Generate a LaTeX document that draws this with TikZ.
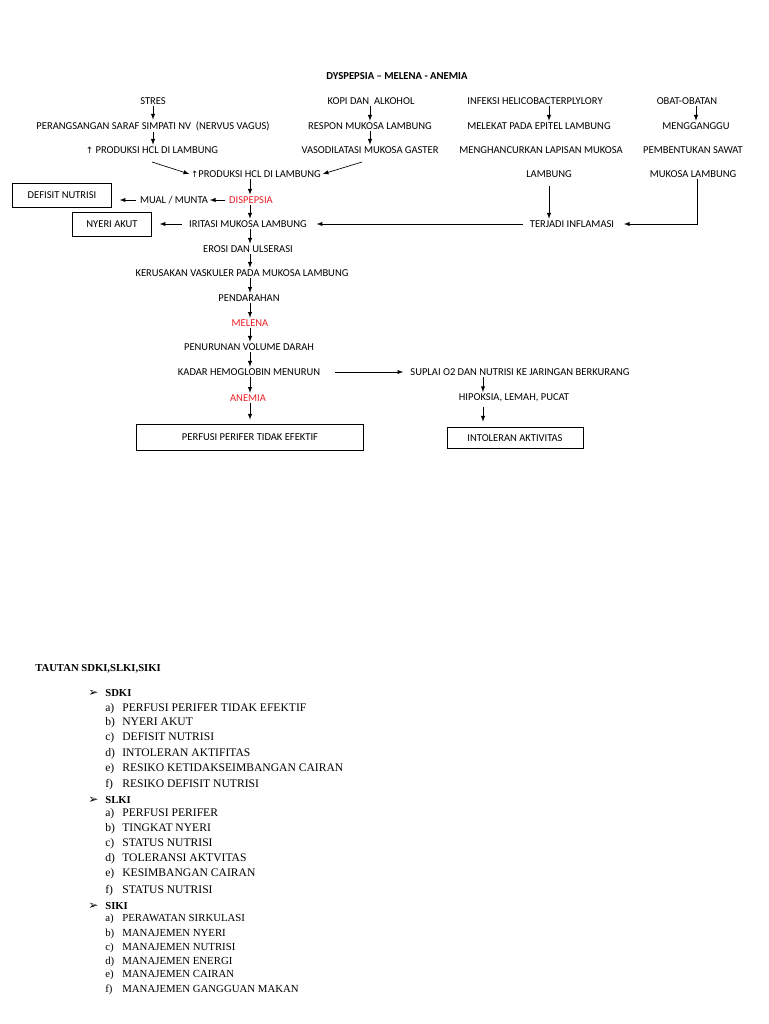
\documentclass[tikz,border=0pt]{standalone}
\usepackage{fontspec}
\usepackage{tikz}
\setmainfont{Carlito}
\newfontfamily\serif{Liberation Serif}
\newfontfamily\simbol{DejaVu Sans}
\definecolor{merah}{RGB}{235,30,35}
\newcommand\naik{{\simbol\fontsize{6.5}{8}\selectfont ↑}}
\newcommand\butir[2]{\makebox[12.8pt][l]{#1}#2}
\newcommand\pokok[1]{\makebox[12.8pt][l]{\simbol\fontsize{9}{9}\selectfont ➢}\textbf{#1}}
\tikzset{
  >=latex,
  lbl/.style={inner sep=1.2pt, font=\fontsize{7.9}{9}\selectfont},
  judul/.style={lbl, font=\bfseries\fontsize{8}{9}\selectfont},
  kunci/.style={lbl, text=merah},
  kotak/.style={lbl, draw, line width=0.6pt},
  panah/.style={->, line width=0.5pt},
  daftar/.style={anchor=west, inner sep=0pt, font=\serif\fontsize{8.7}{10}\selectfont},
  daftarkecil/.style={daftar, font=\serif\fontsize{8.1}{9}\selectfont},
  kepala/.style={daftar, font=\serif\bfseries\fontsize{8}{9}\selectfont}
}
\begin{document}
\begin{tikzpicture}[x=0.75pt,y=-0.75pt]
\useasboundingbox (0,0) rectangle (768,1024);

\node[judul] (judul) at (397,76) {DYSPEPSIA – MELENA - ANEMIA};

\node[lbl] (stres) at (153,101) {STRES};
\node[lbl] (kopi) at (371,101) {KOPI DAN~ ALKOHOL};
\node[lbl] (infeksi) at (535,101) {INFEKSI HELICOBACTERPLYLORY};
\node[lbl] (obat) at (687,101) {OBAT-OBATAN};
\node[lbl] (saraf) at (153,126) {PERANGSANGAN SARAF SIMPATI NV~ (NERVUS VAGUS)};
\node[lbl] (respon) at (370,126) {RESPON MUKOSA LAMBUNG};
\node[lbl] (melekat) at (539,126) {MELEKAT PADA EPITEL LAMBUNG};
\node[lbl] (ganggu) at (696,126) {MENGGANGGU};
\node[lbl] (hcla) at (152,150) {\naik\ PRODUKSI HCL DI LAMBUNG};
\node[lbl] (vaso) at (370,150) {VASODILATASI MUKOSA GASTER};
\node[lbl] (hancur) at (541,150) {MENGHANCURKAN LAPISAN MUKOSA};
\node[lbl] (bentuk) at (693,150) {PEMBENTUKAN SAWAT};
\node[lbl] (hclb) at (256,174) {\naik PRODUKSI HCL DI LAMBUNG};
\node[lbl] (lambung) at (549,174) {LAMBUNG};
\node[lbl] (mukosa) at (693,174) {MUKOSA LAMBUNG};

\node[kotak, minimum width=74pt, minimum height=18pt] (defisit) at (62,195) {DEFISIT NUTRISI};
\node[lbl] (mual) at (174,200) {MUAL / MUNTA};
\node[kunci] (dispepsia) at (251,200) {DISPEPSIA};
\node[kotak, minimum width=59pt, minimum height=18pt] (nyeri) at (112,224) {NYERI AKUT};
\node[lbl] (iritasi) at (248,224) {IRITASI MUKOSA LAMBUNG};
\node[lbl] (inflamasi) at (572,224) {TERJADI INFLAMASI};
\node[lbl] (erosi) at (248,249) {EROSI DAN ULSERASI};
\node[lbl] (vaskuler) at (242,273) {KERUSAKAN VASKULER PADA MUKOSA LAMBUNG};
\node[lbl] (darah) at (249,298) {PENDARAHAN};
\node[kunci] (melena) at (250,323) {MELENA};
\node[lbl] (volume) at (249,347) {PENURUNAN VOLUME DARAH};
\node[lbl] (hb) at (249,372) {KADAR HEMOGLOBIN MENURUN};
\node[lbl] (suplai) at (520,372) {SUPLAI O2 DAN NUTRISI KE JARINGAN BERKURANG};
\node[kunci] (anemia) at (248,398) {ANEMIA};
\node[lbl] (hipoksia) at (514,398) {HIPOKSIA, LEMAH, PUCAT};
\node[kotak, minimum width=170pt, minimum height=19.5pt] (perfusi) at (250,437) {PERFUSI PERIFER TIDAK EFEKTIF};
\node[kotak, minimum width=102pt, minimum height=16pt] (intoleran) at (515,438) {INTOLERAN AKTIVITAS};

\coordinate (kol) at (250,0);
\coordinate (kolb) at (483,0);
\coordinate (tekuk) at (697,224);
\coordinate (hcla-e) at (152,162);
\coordinate (vaso-e) at (362,162);

\draw[panah] (stres) -- (saraf.north -| stres);
\draw[panah] (saraf.south -| stres) -- (hcla.north -| stres);
\draw[panah] (kopi.south -| respon) -- (respon.north);
\draw[panah] (respon) -- (vaso);
\draw[panah] (infeksi.south -| lambung) -- (melekat.north -| lambung);
\draw[panah] (obat.south -| ganggu) -- (ganggu.north);
\draw[panah] (hcla-e) -- (hclb.west);
\draw[panah] (vaso-e) -- (hclb.east);
\draw[panah, shorten <=5pt] (lambung.south) -- (inflamasi.north -| lambung);
\draw[panah, shorten >=6pt] (mukosa.south -| tekuk) -- (tekuk) -- (inflamasi.east);
\draw[panah, shorten <=4pt, shorten >=6pt] (inflamasi.west) -- (iritasi.east);
\draw[panah, shorten <=1.5pt] (dispepsia.west) -- (mual.east);
\draw[panah, shorten <=2pt, shorten >=6pt] (mual.west) -- (mual.west -| defisit.east);
\draw[panah, shorten <=4pt, shorten >=6pt] (iritasi.west) -- (iritasi.west -| nyeri.east);
\draw[panah] (hclb.south -| kol) -- (dispepsia.north -| kol);
\draw[panah] (dispepsia.south -| kol) -- (iritasi.north -| kol);
\draw[panah] (iritasi.south -| kol) -- (erosi.north -| kol);
\draw[panah] (erosi.south -| kol) -- (vaskuler.north -| kol);
\draw[panah] (vaskuler.south -| kol) -- (darah.north -| kol);
\draw[panah] (darah.south -| kol) -- (melena.north -| kol);
\draw[panah] (melena.south -| kol) -- (volume.north -| kol);
\draw[panah] (volume.south -| kol) -- (hb.north -| kol);
\draw[panah] (hb.south -| kol) -- (anemia.north -| kol);
\draw[panah, shorten >=3pt] (anemia.south -| kol) -- (perfusi.north -| kol);
\draw[panah, shorten <=10pt, shorten >=4pt] (hb.east) -- (suplai.west);
\draw[panah] (suplai.south -| kolb) -- (hipoksia.north -| kolb);
\draw[panah, shorten <=2pt, shorten >=4pt] (hipoksia.south -| kolb) -- (intoleran.north -| kolb);

\node[kepala] (tautan) at (35,669) {TAUTAN SDKI,SLKI,SIKI};
\node[kepala] (sdki) at (88,693) {\pokok{SDKI}};
\node[daftar] (sdkia) at (105,709) {\butir{a)}{PERFUSI PERIFER TIDAK EFEKTIF}};
\node[daftar] (sdkib) at (105,723) {\butir{b)}{NYERI AKUT}};
\node[daftar] (sdkic) at (105,738) {\butir{c)}{DEFISIT NUTRISI}};
\node[daftar] (sdkid) at (105,754) {\butir{d)}{INTOLERAN AKTIFITAS}};
\node[daftar] (sdkie) at (105,769) {\butir{e)}{RESIKO KETIDAKSEIMBANGAN CAIRAN}};
\node[daftar] (sdkif) at (105,785) {\butir{f)}{RESIKO DEFISIT NUTRISI}};
\node[kepala] (slki) at (88,800) {\pokok{SLKI}};
\node[daftar] (slkia) at (105,814) {\butir{a)}{PERFUSI PERIFER}};
\node[daftar] (slkib) at (105,829) {\butir{b)}{TINGKAT NYERI}};
\node[daftar] (slkic) at (105,844) {\butir{c)}{STATUS NUTRISI}};
\node[daftar] (slkid) at (105,859) {\butir{d)}{TOLERANSI AKTVITAS}};
\node[daftar] (slkie) at (105,874) {\butir{e)}{KESIMBANGAN CAIRAN}};
\node[daftar] (slkif) at (105,891) {\butir{f)}{STATUS NUTRISI}};
\node[kepala] (siki) at (88,906) {\pokok{SIKI}};
\node[daftarkecil] (sikia) at (105,919) {\butir{a)}{PERAWATAN SIRKULASI}};
\node[daftarkecil] (sikib) at (105,934) {\butir{b)}{MANAJEMEN NYERI}};
\node[daftarkecil] (sikic) at (105,948) {\butir{c)}{MANAJEMEN NUTRISI}};
\node[daftarkecil] (sikid) at (105,962) {\butir{d)}{MANAJEMEN ENERGI}};
\node[daftarkecil] (sikie) at (105,975) {\butir{e)}{MANAJEMEN CAIRAN}};
\node[daftarkecil] (sikif) at (105,990) {\butir{f)}{MANAJEMEN GANGGUAN MAKAN}};
\end{tikzpicture}
\end{document}
